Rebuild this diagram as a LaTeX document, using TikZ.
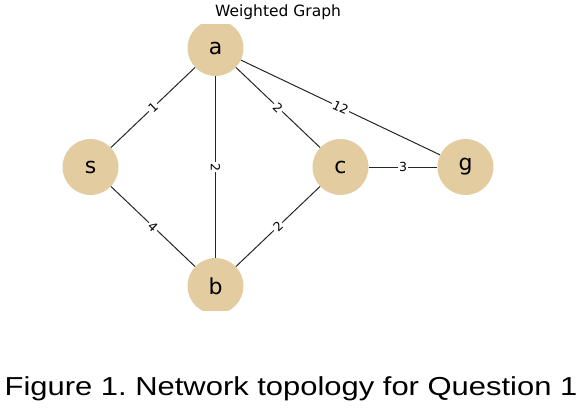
\documentclass[tikz,border=0pt]{standalone}
\usepackage{fontspec}
\setmainfont{DejaVu Sans}
\newfontfamily\capfont{Liberation Sans}
\usepackage{tikz}
\usetikzlibrary{positioning}
\definecolor{vertexfill}{RGB}{227,205,160}
\newcommand{\gnode}[2]{\node(#1)[vertex]{#2}}

\begin{document}
\frenchspacing
\begin{tikzpicture}[
        x=1pt, y=1pt,
        every node/.style={font=\fontsize{15.5}{18}\selectfont},
        vertex/.style={circle,minimum size=56pt,inner sep=0pt,fill=vertexfill,
                       font=\fontsize{22}{26}\selectfont},
        edge/.style={draw=black!85,line width=1pt},
        weight/.style={fill=white,inner sep=1.5pt,sloped,
                       font=\fontsize{12.5}{15}\selectfont}
      ]
      \useasboundingbox (0,0) rectangle (581,416);
      \begin{scope}
        \clip (0,106) rectangle (581,391);
        \matrix[row sep=63pt, column sep=69pt] at (278,249) {
          & \gnode{a}{a}; & & \\
          \gnode{s}{s}; & & \gnode{c}{c}; & \gnode{g}{g}; \\
          & \gnode{b}{b}; & & \\
        };
      \end{scope}
      % weighted edges
      \draw[edge] (s) -- node[weight]{1} (a);
      \draw[edge] (a) -- node[weight]{2} (b);
      \draw[edge] (a) -- node[weight]{2} (c);
      \draw[edge] (a) -- node[weight]{12} (g);
      \draw[edge] (c) -- node[weight]{3} (g);
      \draw[edge] (s) -- node[weight]{4} (b);
      \draw[edge] (b) -- node[weight]{2} (c);

      \node (title) at (278,404) {Weighted Graph};
      \node (caption) [xscale=1.19,transform shape] at (291,27) {\capfont\fontsize{26}{30}\selectfont Figure 1. Network topology for Question 1};
    \end{tikzpicture}
\end{document}
